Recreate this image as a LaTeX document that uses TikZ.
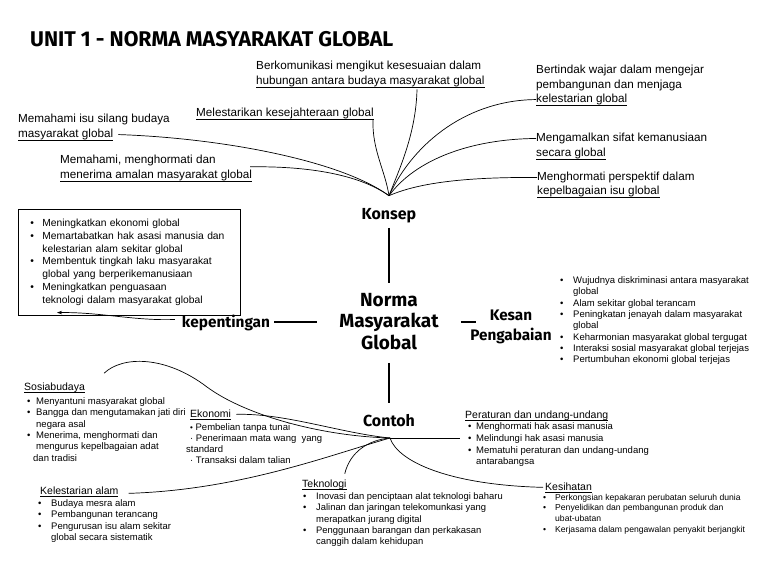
\documentclass[tikz,border=0pt]{standalone}
\usepackage{fontspec}
\setmainfont{Liberation Sans}
\newfontfamily\headfont{Fira Sans}
\usetikzlibrary{arrows.meta,calc}
\newcommand\bul[1]{\makebox[#1][l]{\textbullet}}
\newsavebox\ulbox
\newcommand\ulx[2][-2.6pt]{\sbox\ulbox{#2}\rlap{\rule[#1]{\wd\ulbox}{0.55pt}}\usebox\ulbox}
\begin{document}
\begin{tikzpicture}[x=1pt,y=-1pt,
  leaf/.style={anchor=base west, inner sep=0pt, font=\fontsize{11.7}{14}\selectfont},
  hdr/.style={anchor=base west, inner sep=0pt, font=\fontsize{10.5}{12}\selectfont},
  lst/.style={anchor=north west, inner sep=0pt, align=left},
  big/.style={inner sep=0pt, font=\headfont\bfseries\fontsize{16}{19}\selectfont},
  conn/.style={line width=0.7pt},
  trunk/.style={line width=2pt}
]
\useasboundingbox (0,0) rectangle (768,576);

% title
\node[anchor=base west, inner sep=0pt, font=\headfont\bfseries\fontsize{21.3}{24}\selectfont] (title) at (30,46) {UNIT 1 - NORMA MASYARAKAT GLOBAL};

% central labels
\node[big, anchor=base] (konsep) at (389,219) {Konsep};
\node[inner sep=0pt, align=center, font=\headfont\bfseries\fontsize{19}{21.5}\selectfont] (norma) at (389,321.5) {Norma\\Masyarakat\\Global};
\node[big, anchor=base, font=\headfont\bfseries\fontsize{15.4}{19}\selectfont] (kep) at (226,327) {kepentingan};
\node[inner sep=0pt, align=center, font=\headfont\bfseries\fontsize{15.3}{20}\selectfont] (kesan) at (511,327) {Kesan\\Pengabaian};
\node[big, anchor=base] (contoh) at (389,426) {Contoh};

\coordinate (kroot) at ($(konsep.north)+(0,-12)$);
\coordinate (croot) at ($(contoh.base)+(1,12)$);

% trunks
\draw[trunk, shorten <=5pt, shorten >=10pt] (konsep.south) -- (norma.north);
\draw[trunk, shorten <=13pt, shorten >=11pt] (norma.south) -- (contoh.north);
\draw[trunk, shorten <=4pt, shorten >=22pt] (kep.east) -- (kep.east -| norma.west);
\draw[trunk, shorten <=22pt, shorten >=-6pt] (norma.east) -- (norma.east -| kesan.west);

% Konsep leaves
\node[leaf] (ber1) at (256,69.5) {Berkomunikasi mengikut kesesuaian dalam};
\node[leaf] (ber2) at (256,84.5) {\ulx{hubungan antara budaya masyarakat global}};
\node[leaf] (bert1) at (536,73.5) {Bertindak wajar dalam mengejar};
\node[leaf] (bert2) at (536,88.5) {pembangunan dan menjaga};
\node[leaf] (bert3) at (536,102.5) {\ulx{kelestarian global}};
\node[leaf] (isuA) at (18,122.5) {Memahami isu silang budaya};
\node[leaf] (isuB) at (18,137.5) {\ulx{masyarakat global}};
\node[leaf] (lest) at (196,116.5) {\ulx{Melestarikan kesejahteraan global}};
\node[leaf] (mengA) at (536,141.5) {Mengamalkan sifat kemanusiaan};
\node[leaf] (mengB) at (536,156.5) {\ulx{secara global}};
\node[leaf] (menA) at (60,163.5) {Memahami, menghormati dan};
\node[leaf] (menB) at (60,178.5) {\ulx{menerima amalan masyarakat global}};
\node[leaf] (hormA) at (537,180.5) {Menghormati perspektif dalam};
\node[leaf] (hormB) at (537,194.5) {\ulx{kepelbagaian isu global}};

\draw[conn] ($(isuB.east)+(5,0)$) .. controls (220,138) and (340,160) .. (kroot);
\draw[conn] ($(menB.north east)+(-2,-3)$) .. controls (310,166) and (360,175) .. (kroot);
\draw[conn] ($(lest.south east)+(-1,0)$) .. controls (372,150) and (385,170) .. (kroot);
\draw[conn] ($(ber2.south west)+(161,2)$) .. controls (416,135) and (398,172) .. (kroot);
\draw[conn] (bert3.west) .. controls (470,100) and (415,140) .. (kroot);
\draw[conn] (mengA.west) .. controls (470,139) and (415,160) .. (kroot);
\draw[conn] (hormA.west) .. controls (470,177) and (420,182) .. (kroot);

% importance box
\node[draw, line width=0.8pt, anchor=north west, inner xsep=12pt, inner ysep=10pt, text width=198pt, align=left, font=\fontsize{10.3}{12.7}\selectfont] (box) at (18,209) {%
\bul{12pt}Meningkatkan ekonomi global\\
\bul{12pt}Memartabatkan hak asasi manusia dan\\
\hspace*{12pt}kelestarian alam sekitar global\\
\bul{12pt}Membentuk tingkah laku masyarakat\\
\hspace*{12pt}global yang berperikemanusiaan\\
\bul{12pt}Meningkatkan penguasaan\\
\hspace*{12pt}teknologi dalam masyarakat global};
\draw[conn, -{Stealth[length=5pt,width=3.5pt]}] ($(kep.west)+(-7,-3)$) .. controls (135,321) and (100,312) .. ($(box.south west)+(39,-3)$);

% Kesan list
\node[lst, font=\fontsize{9.5}{11.3}\selectfont] (kesL) at (560,276.6) {%
\bul{13pt}Wujudnya diskriminasi antara masyarakat\\
\hspace*{13pt}global\\
\bul{13pt}Alam sekitar global terancam\\
\bul{13pt}Peningkatan jenayah dalam masyarakat\\
\hspace*{13pt}global\\
\bul{13pt}Keharmonian masyarakat global tergugat\\
\bul{13pt}Interaksi sosial masyarakat global terjejas\\
\bul{13pt}Pertumbuhan ekonomi global terjejas};

% Contoh branches
\node[hdr] (sosH) at (24,390) {\ulx[-2.3pt]{Sosiabudaya}};
\node[lst, font=\fontsize{9.5}{11.3}\selectfont] (sosL) at (27,397.6) {%
\bul{9pt}Menyantuni masyarakat global\\
\bul{9pt}Bangga dan mengutamakan jati diri\\
\hspace*{9pt}negara asal\\
\bul{9pt}Menerima, menghormati dan\\
\hspace*{9pt}mengurus kepelbagaian adat\\
\hspace*{6pt}dan tradisi};

\node[hdr] (ekoH) at (190,417) {\ulx[-2.3pt]{Ekonomi}};
\node[lst, font=\fontsize{9.5}{10.8}\selectfont] (ekoL) at (186,423.6) {%
\hspace*{4pt}{\footnotesize\textbullet}\ Pembelian tanpa tunai\\
\hspace*{4pt}· Penerimaan mata wang\ \ yang\\
standard\\
\hspace*{4pt}· Transaksi dalam talian};

\node[hdr] (perH) at (465,418) {\ulx[-2.3pt]{Peraturan dan undang-undang}};
\node[lst, font=\fontsize{9.5}{11.7}\selectfont] (perL) at (468,422.6) {%
\bul{8pt}Menghormati hak asasi manusia\\
\bul{8pt}Melindungi hak asasi manusia\\
\bul{8pt}Mematuhi peraturan dan undang-undang\\
\hspace*{8pt}antarabangsa};

\node[hdr] (kelH) at (40,494) {\ulx[-2.3pt]{Kelestarian alam}};
\node[lst, font=\fontsize{9.5}{11.3}\selectfont] (kelL) at (38,499.6) {%
\bul{13pt}Budaya mesra alam\\
\bul{13pt}Pembangunan terancang\\
\bul{13pt}Pengurusan isu alam sekitar\\
\hspace*{13pt}global secara sistematik};

\node[hdr] (tekH) at (302,487.5) {\ulx[-2.3pt]{Teknologi}};
\node[lst, font=\fontsize{9.4}{11.3}\selectfont] (tekL) at (303,492.6) {%
\bul{13pt}Inovasi dan penciptaan alat teknologi baharu\\
\bul{13pt}Jalinan dan jaringan telekomunkasi yang\\
\hspace*{13pt}merapatkan jurang digital\\
\bul{13pt}Penggunaan barangan dan perkakasan\\
\hspace*{13pt}canggih dalam kehidupan};

\node[hdr] (kesH) at (545,490) {\ulx[-2.3pt]{Kesihatan}};
\node[lst, font=\fontsize{8.6}{10.7}\selectfont] (kesiL) at (543,493.6) {%
\bul{12pt}Perkongsian kepakaran perubatan seluruh dunia\\
\bul{12pt}Penyelidikan dan pembangunan produk dan\\
\hspace*{12pt}ubat-ubatan\\
\bul{12pt}Kerjasama dalam pengawalan penyakit berjangkit};

\draw[conn] (croot) -- (croot -| perL.west) [shorten >=8pt];
\draw[conn] ($(ekoH.east)+(5,0)$) .. controls (285,413) and (340,433) .. (croot);
\draw[conn] ($(sosH.north east)+(19,-9)$) .. controls (122,356) and (165,355) .. (207,387) .. controls (245,415) and (320,436) .. (croot);
\draw[conn] ($(kelH.east)+(10,2)$) .. controls (240,490) and (330,455) .. (croot);
\draw[conn] ($(tekH.north east)+(-2,-6)$) .. controls (350,452) and (368,440) .. (croot);
\draw[conn] (croot) .. controls (398,462) and (450,485) .. ($(kesH.west)+(-2,0)$);
\end{tikzpicture}
\end{document}
